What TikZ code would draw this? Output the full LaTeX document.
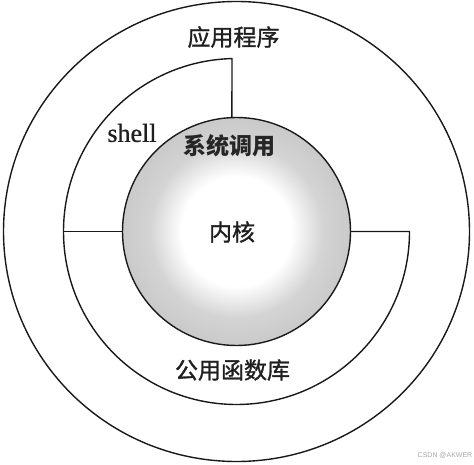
\documentclass[tikz,border=0pt]{standalone}
\usepackage{fontspec}
\setmainfont{Liberation Serif}
\newfontfamily\cjk[FakeBold=1.2]{Noto Sans CJK SC}
\newfontfamily\cjkbold{Noto Sans CJK SC}
\newfontfamily\shellfont[FakeBold=0.8]{Liberation Serif}
\newfontfamily\wmfont{Liberation Sans}
\usetikzlibrary{calc}
\pgfdeclareradialshading{kernelring}{\pgfpoint{0bp}{0bp}}{color(0bp)=(white); color(12bp)=(white); color(19bp)=(black!17); color(25bp)=(black!21); color(50bp)=(black!21)}
\tikzset{
  ring/.style={draw=black!90, line width=1.4pt},
  cjklabel/.style={font=\cjk\fontsize{23}{26}\selectfont, text=black!88, inner sep=0pt},
  syslabel/.style={font=\cjkbold\bfseries\fontsize{23}{26}\selectfont, text=black!85, inner sep=0pt},
  shelllabel/.style={font=\shellfont\fontsize{26}{30}\selectfont, text=black!88, inner sep=0pt},
  wmark/.style={font=\wmfont\fontsize{7}{8}\selectfont, text=black!35, inner sep=0pt}
}
\begin{document}
\begin{tikzpicture}[x=1pt,y=1pt]
\useasboundingbox (0,0) rectangle (474,464);
\coordinate (O) at (236.5,232.5);
% kernel ring shading
\shade[shading=kernelring] (O) circle (114);
% outer circle
\draw[ring] (O) ellipse [x radius=233, y radius=230];
% kernel circle
\draw[ring] (O) circle (114);
% shell / library region boundary
\coordinate (ST) at ($(O)+(91.5:173)$);
\coordinate (SB) at ($(O)+(92.3:114)$);
\coordinate (L1) at ($(O)+(180:173)$);
\coordinate (L2) at ($(O)+(180:114)$);
\coordinate (R2) at ($(O)+(0:114)$);
\draw[ring] (SB) -- (ST) arc[start angle=91.5, end angle=360, radius=173] -- (R2);
\draw[ring] (L1) -- (L2);
% labels
\node[cjklabel] (app) at (233.5,427) {应用程序};
\node[shelllabel] (shell) at (132,331) {shell};
\node[syslabel] (sys) at (229.5,318) {系统调用};
\node[cjklabel] (kern) at (232,232) {内核};
\node[cjklabel] (lib) at (232.5,94) {公用函数库};
\node[wmark] (wm) at (445,9) {CSDN @AKWER};
\end{tikzpicture}
\end{document}
